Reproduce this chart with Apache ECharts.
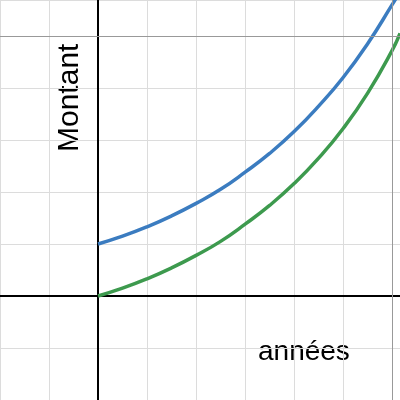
<!DOCTYPE html>
<html><head><meta charset="utf-8">
<script src="https://cdn.jsdelivr.net/npm/echarts@6/dist/echarts.min.js"></script>
<style>html,body{margin:0;padding:0;background:#fff;overflow:hidden}#c{width:400px;height:400px}</style>
</head><body><div id="c"></div>
<script>
const xs = [0, 0.5, 1, 1.5, 2, 2.5, 3, 3.5, 4, 4.5, 5, 5.5, 6, 6.16];
const blue = [1, 1.15, 1.33, 1.54, 1.78, 2.05, 2.38, 2.74, 3.16, 3.65, 4.2, 4.85, 5.6, 5.85];
const green = [0, 0.15, 0.33, 0.54, 0.78, 1.05, 1.38, 1.74, 2.16, 2.65, 3.22, 3.9, 4.72, 5.05];
const xLabel = "années";
const yLabel = "Montant";
const chart = echarts.init(document.getElementById('c'));
const pairs = a => xs.map((x, i) => [x, a[i]]);
chart.setOption({
  animation: false,
  grid: {left: 0, right: 0, top: 0, bottom: -50},
  xAxis: {type: 'value', min: -2, max: 6.16, interval: 1,
    axisLine: {onZero: true, lineStyle: {color: '#000', width: 2}},
    axisTick: {show: false}, axisLabel: {show: false},
    splitLine: {lineStyle: {color: '#dcdcdc', width: 1}}},
  yAxis: {type: 'value', min: -2, max: 5.69, interval: 1,
    axisLine: {show: true, onZero: true, lineStyle: {color: '#000', width: 2}},
    axisTick: {show: false}, axisLabel: {show: false},
    splitLine: {lineStyle: {color: '#dcdcdc', width: 1}}},
  series: [
    {type: 'line', data: [], silent: true,
     markLine: {symbol: 'none', silent: true, label: {show: false},
       lineStyle: {color: '#999', type: 'solid', width: 1},
       data: [{xAxis: 6}, {yAxis: 5}]}},
    {type: 'line', data: pairs(green), smooth: true, showSymbol: false,
     lineStyle: {color: '#3d9a4e', width: 3.5}},
    {type: 'line', data: pairs(blue), smooth: true, showSymbol: false,
     lineStyle: {color: '#3b7cc0', width: 3.5}}
  ],
  graphic: [
    {type: 'text', left: 258, top: 338, style: {text: xLabel, font: '28px Arial, "Liberation Sans"', fill: '#000'}},
    {type: 'text', x: 55, y: 152, rotation: Math.PI / 2,
     style: {text: yLabel, font: '30px Arial, "Liberation Sans"', fill: '#000'}}
  ]
});
</script></body></html>
